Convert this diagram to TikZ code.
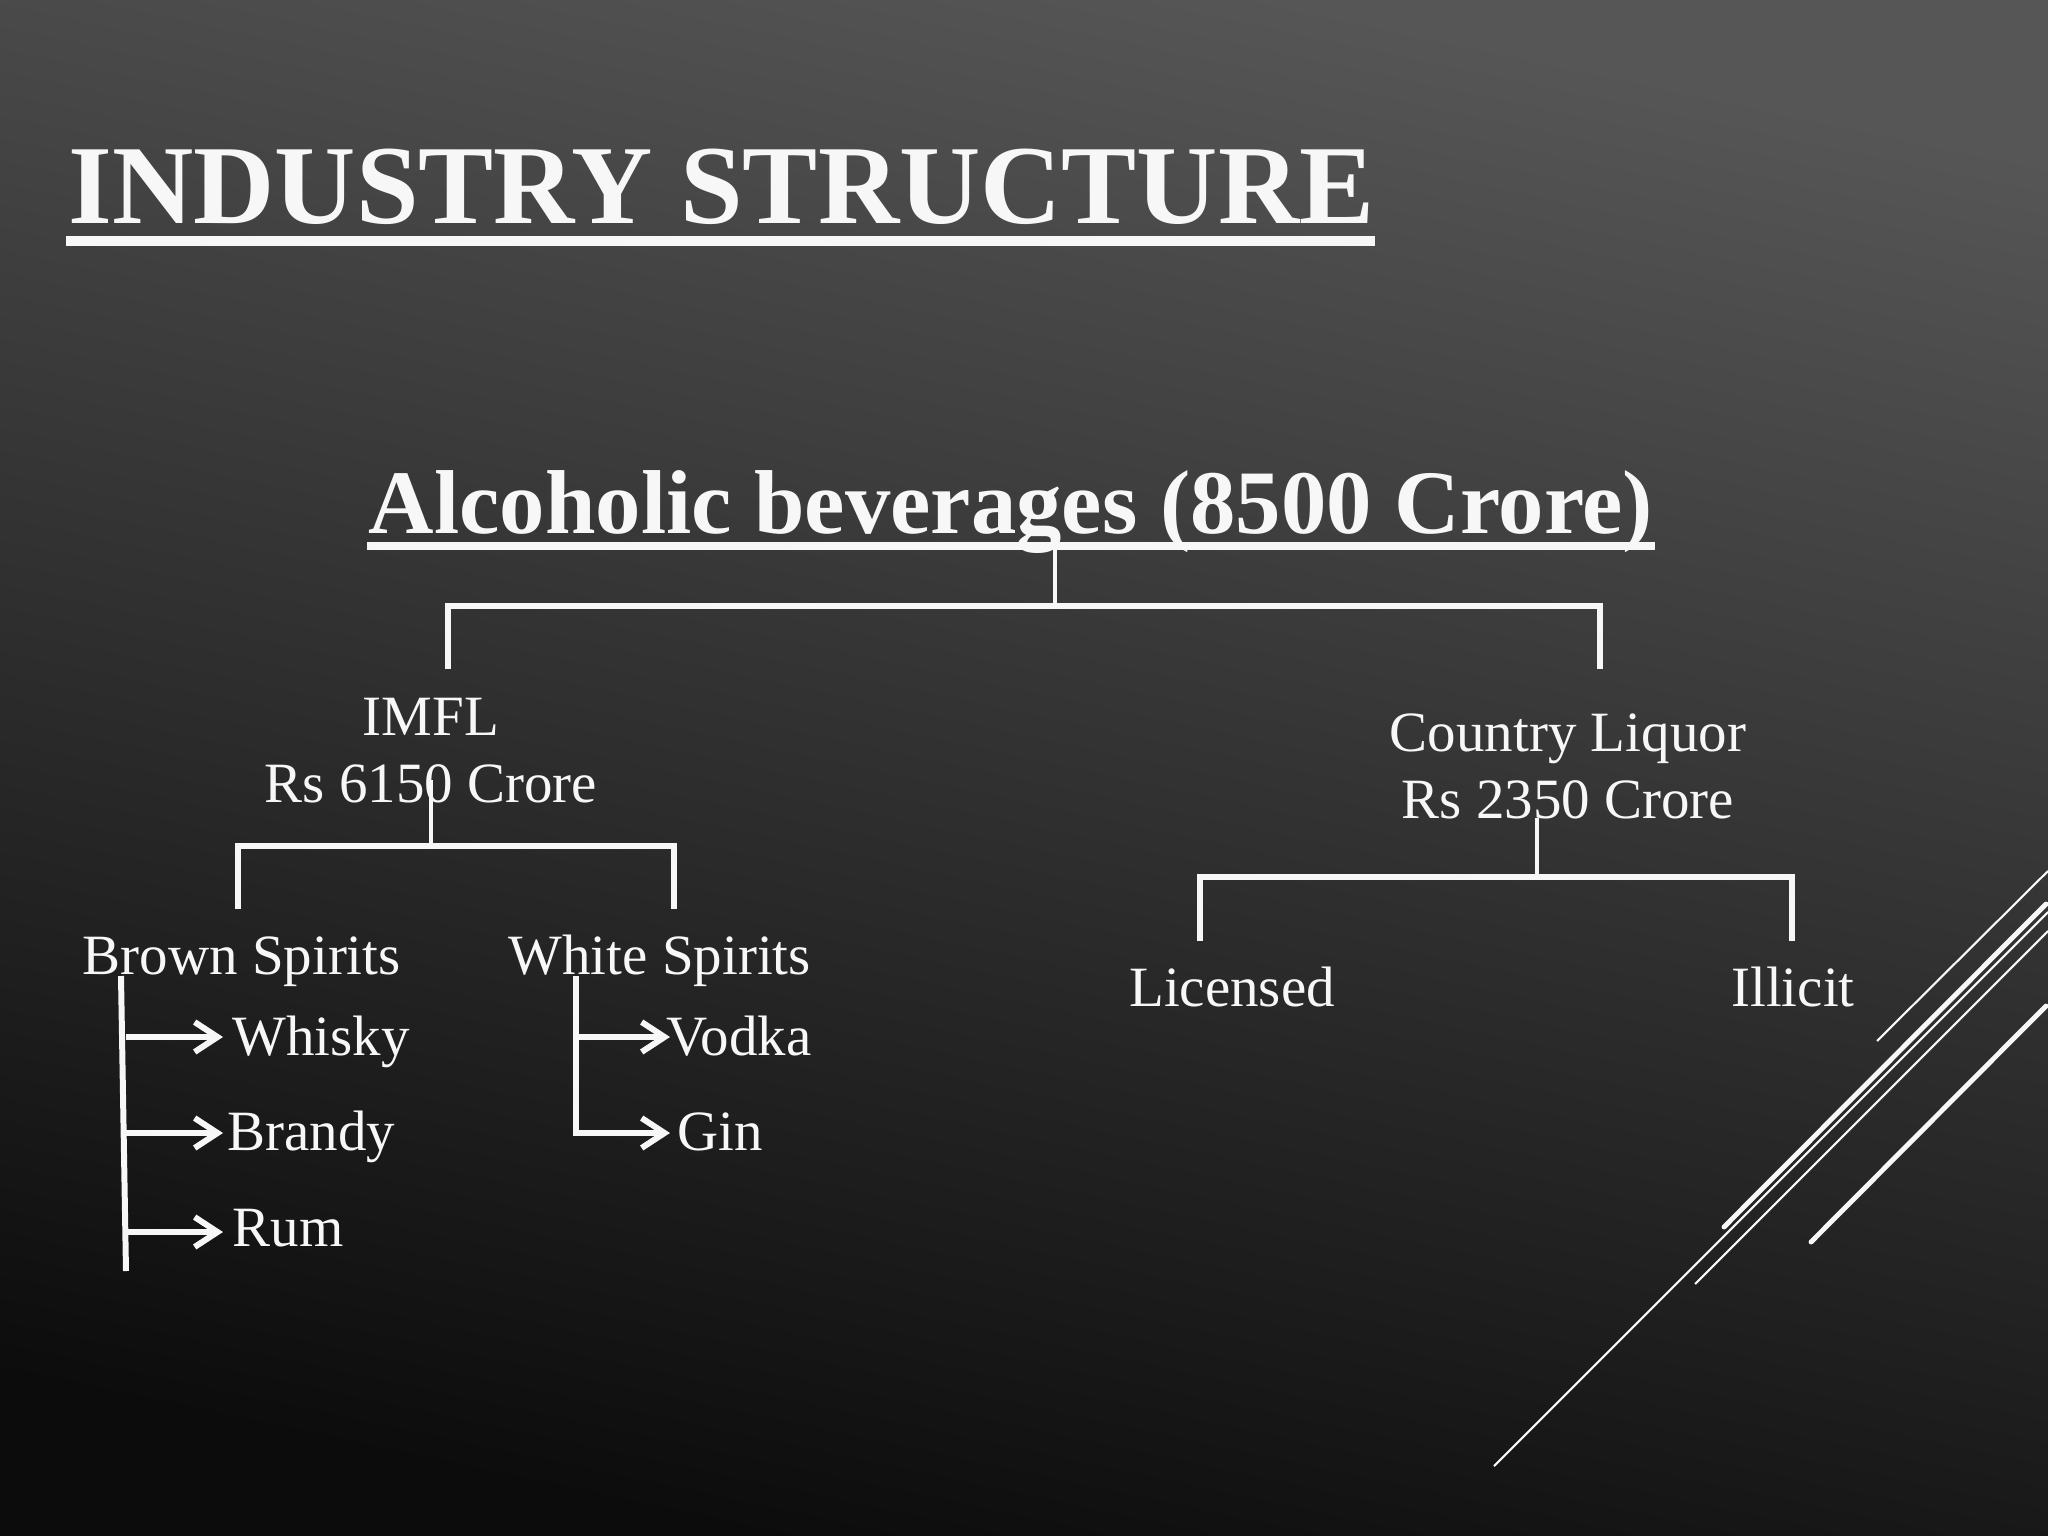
\documentclass[tikz,border=0pt]{standalone}
\usepackage{fontspec}
\setmainfont{Liberation Serif}
\usetikzlibrary{arrows.meta}
\definecolor{bgTop}{HTML}{565656}
\definecolor{bgMid}{HTML}{1E1E1E}
\definecolor{bgBot}{HTML}{0C0C0C}
\definecolor{ink}{HTML}{F7F7F7}
\tikzset{
  titlest/.style={inner sep=0pt, text=ink, font=\fontsize{32}{38}\selectfont\bfseries},
  rootst/.style={inner sep=0pt, text=ink, font=\fontsize{25.8}{31}\selectfont\bfseries},
  lbl/.style={inner sep=0pt, text=ink, align=center, font=\fontsize{16.2}{19}\selectfont},
  uline/.style={draw=ink, line cap=butt},
  conn/.style={draw=ink, line width=1.7pt},
  arr/.style={draw=ink, line width=1.7pt, -{Straight Barb[length=6.5pt,width=8.5pt,line width=1.7pt]}},
  thinline/.style={draw=ink, line width=0.6pt},
  thickline/.style={draw=ink, line width=1.4pt, line cap=round}
}
\begin{document}
\begin{tikzpicture}[x=0.01cm, y=-0.01cm]
\useasboundingbox (0,0) rectangle (2048,1536);
% background
\shade[top color=bgTop, middle color=bgMid, bottom color=bgBot, shading angle=-12] (0,0) rectangle (2048,1536);

% title
\node[titlest, anchor=base west] (title) at (68,223) {INDUSTRY STRUCTURE};
\draw[uline, line width=2.85pt] (66,241) -- (1375,241);

% root
\node[rootst, anchor=base] (root) at (1011,533) {Alcoholic beverages (8500 Crore)};
\draw[uline, line width=2pt] (367,546) -- (1655,546);

% level 1
\node[lbl, anchor=base] (imfl) at (431,802) {IMFL\\Rs 6150 Crore};
\node[lbl, anchor=base] (country) at (1568,818) {Country Liquor\\Rs 2350 Crore};

\coordinate (rtop) at (1055,546);
\coordinate (rj) at (1055,606);
\coordinate (imflT) at (448,669);
\coordinate (countryT) at (1600,669);
\draw[conn, line width=1.3pt] (rtop) -- (rj);
\draw[conn] (imflT) |- (rj) -| (countryT);

% level 2 (IMFL)
\node[lbl, anchor=base west] (brown) at (82,974) {Brown Spirits};
\node[lbl, anchor=base west] (white) at (508,974) {White Spirits};
\coordinate (itop) at (431,780);
\coordinate (ij) at (431,846);
\coordinate (brownT) at (238,909);
\coordinate (whiteT) at (674,909);
\draw[conn, line width=1.3pt] (itop) -- (ij);
\draw[conn] (brownT) |- (ij) -| (whiteT);

% level 2 (Country)
\node[lbl, anchor=base] (lic) at (1232,1006) {Licensed};
\node[lbl, anchor=base] (ill) at (1793,1006) {Illicit};
\coordinate (ctop) at (1537,818);
\coordinate (cj) at (1537,877);
\coordinate (licT) at (1200,941);
\coordinate (illT) at (1792,941);
\draw[conn, line width=1.3pt] (ctop) -- (cj);
\draw[conn] (licT) |- (cj) -| (illT);

% brown spirits list
\node[lbl, anchor=base west] (whisky) at (232,1055) {Whisky};
\node[lbl, anchor=base west] (brandy) at (227,1150) {Brandy};
\node[lbl, anchor=base west] (rum) at (232,1246) {Rum};
\coordinate (bTop) at (121,976);
\coordinate (bBot) at (126,1271);
\draw[conn] (bTop) -- (bBot);
\coordinate (b1) at (126,1037); \coordinate (b1t) at (223,1037);
\coordinate (b2) at (126,1133); \coordinate (b2t) at (223,1133);
\coordinate (b3) at (126,1232); \coordinate (b3t) at (223,1232);
\draw[arr] (b1) -- (b1t);
\draw[arr] (b2) -- (b2t);
\draw[arr] (b3) -- (b3t);

% white spirits list
\node[lbl, anchor=base west] (vodka) at (666,1055) {Vodka};
\node[lbl, anchor=base west] (gin) at (677,1150) {Gin};
\coordinate (wTop) at (576,976);
\coordinate (w1) at (576,1037); \coordinate (w1t) at (670,1037);
\coordinate (w2) at (576,1133); \coordinate (w2t) at (670,1133);
\draw[conn] (wTop) -- ([yshift=-0.85pt]w2);
\draw[arr] (w1) -- (w1t);
\draw[arr] (w2) -- (w2t);

% decorative diagonals
\draw[thinline] (1877,1041) -- (2048,871);
\draw[thickline] (1724,1227) -- (2046,904);
\draw[thinline] (1494,1466) -- (2048,912);
\draw[thinline] (1695,1284) -- (2048,931);
\draw[thickline] (1811,1242) -- (2046,1006);
\end{tikzpicture}
\end{document}
